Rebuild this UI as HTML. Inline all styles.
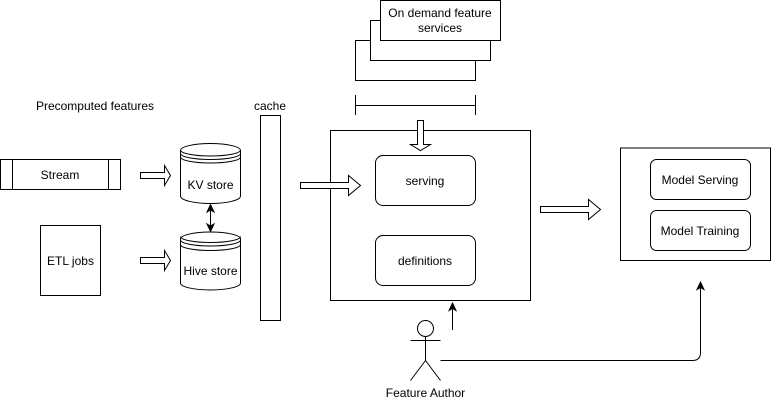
<!DOCTYPE html>
<html>
<head>
<meta charset="utf-8">
<style>
html,body{margin:0;padding:0;background:#fff;width:771px;height:402px;overflow:hidden}
svg{display:block}
text{font-family:"Liberation Sans",Arial,sans-serif;font-size:12px;fill:#000;text-anchor:middle}
.s{fill:#fff;stroke:#000;stroke-width:1}
.n{fill:none;stroke:#000;stroke-width:1}
</style>
</head>
<body>
<svg width="771" height="402" viewBox="0 0 771 402" xmlns="http://www.w3.org/2000/svg">
<rect width="771" height="402" fill="#fff"/>

<!-- On demand stack -->
<rect class="s" x="355.5" y="40.5" width="120" height="40"/>
<rect class="s" x="370.5" y="20.5" width="120" height="40"/>
<rect class="s" x="380.5" y="0.5" width="120" height="40"/>
<text x="440" y="17">On demand feature</text>
<text x="440" y="32">services</text>

<!-- Bracket -->
<path class="n" d="M355.5 95V115M355.5 105.5H475.5M475.5 95V115"/>

<!-- Main box -->
<rect class="s" x="330.5" y="130.5" width="200" height="170"/>
<rect class="s" x="375.5" y="155.5" width="100" height="50" rx="7.5"/>
<text x="425" y="185">serving</text>
<rect class="s" x="375.5" y="235.5" width="100" height="50" rx="7.5"/>
<text x="425" y="265">definitions</text>

<!-- Down arrow -->
<path class="s" d="M417.5 120.5H423.5V144.5H430.5L420.5 150.5L410.5 144.5H417.5Z"/>

<!-- Labels -->
<text x="95" y="110">Precomputed features</text>
<text x="270" y="110">cache</text>

<!-- Stream -->
<rect class="s" x="0.5" y="159.5" width="120" height="30"/>
<path class="n" d="M12.5 159.5V189.5M108.5 159.5V189.5"/>
<text x="60" y="179">Stream</text>

<!-- ETL -->
<rect class="s" x="40.5" y="225.5" width="60" height="70"/>
<text x="70.5" y="265">ETL jobs</text>

<!-- Block arrows -->
<path class="s" d="M140.5 172.5H164.5V165.5L170.5 175.5L164.5 185.5V178.5H140.5Z"/>
<path class="s" d="M140.5 257.5H164.5V250.5L170.5 260.5L164.5 270.5V263.5H140.5Z"/>

<!-- KV store -->
<path class="s" d="M180.5 150.5A30 7 0 0 1 240.5 150.5V196A30 7.5 0 0 1 180.5 196Z"/>
<path class="n" d="M180.5 150A30 6 0 0 0 240.5 150M180.5 153.5A30 6 0 0 0 240.5 153.5M180.5 157A30 6 0 0 0 240.5 157"/>
<text x="210.5" y="189">KV store</text>

<!-- Hive store -->
<path class="s" d="M180.5 239A30 7 0 0 1 240.5 239V283A30 7 0 0 1 180.5 283Z"/>
<path class="n" d="M180.5 236.5A30 6 0 0 0 240.5 236.5M180.5 240A30 6 0 0 0 240.5 240M180.5 244.5A30 6 0 0 0 240.5 244.5"/>
<text x="210.5" y="275">Hive store</text>

<!-- Double arrow -->
<path d="M210.5 210V226" stroke="#000" stroke-width="1" fill="none"/>
<path d="M210.5 204.5L214 212L210.5 210L207 212Z" fill="#000" stroke="#000"/>
<path d="M210.5 231.5L214 224L210.5 226L207 224Z" fill="#000" stroke="#000"/>

<!-- Cache -->
<rect class="s" x="260.5" y="115.5" width="20" height="205"/>

<!-- Cache arrow -->
<path class="s" d="M300.5 182.5H348.5V175.5L360.5 185.5L348.5 195.5V188.5H300.5Z"/>

<!-- Model arrow -->
<path class="s" d="M540.5 206.5H588.5V199.5L600.5 209.5L588.5 219.5V212.5H540.5Z"/>

<!-- Model box -->
<rect x="620.5" y="148" width="150" height="112.5" fill="#fff" stroke="#000"/>
<rect class="s" x="650.5" y="159.5" width="100" height="40" rx="6"/>
<text x="700" y="184">Model Serving</text>
<rect class="s" x="650.5" y="210.5" width="100" height="40" rx="6"/>
<text x="700" y="235">Model Training</text>

<!-- Actor -->
<circle class="s" cx="425.5" cy="328.5" r="8"/>
<path class="n" d="M425.5 336.5V360.5M410.5 340.5H440.5M425.5 360.5L410.5 380.5M425.5 360.5L440.5 380.5"/>
<text x="425.5" y="397">Feature Author</text>

<!-- Up arrow -->
<path class="n" d="M452.5 330V308"/>
<path d="M452.5 303L456 310.5L452.5 308.5L449 310.5Z" fill="#000" stroke="#000"/>

<!-- Connector -->
<path class="n" d="M440.5 360.5H692.5Q700.5 360.5 700.5 352.5V287"/>
<path d="M700.5 282L704 289.5L700.5 287.5L697 289.5Z" fill="#000" stroke="#000"/>
</svg>
</body>
</html>
